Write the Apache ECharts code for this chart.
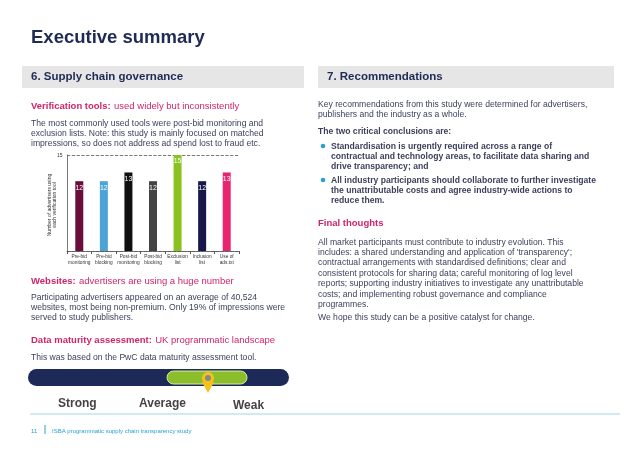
<!DOCTYPE html>
<html><head><meta charset="utf-8">
<script src="https://cdn.jsdelivr.net/npm/echarts@6/dist/echarts.min.js"></script>
<style>html,body{margin:0;padding:0;background:#fff}#main{width:638px;height:451px}</style>
</head><body><div id="main"></div>
<script>
var categories = ['Pre-bid\nmonitoring', 'Pre-bid\nblocking', 'Post-bid\nmonitoring', 'Post-bid\nblocking', 'Exclusion\nlist', 'Inclusion\nlist', 'Use of\nads.txt'];
var values = [12, 12, 13, 12, 15, 12, 13];
var barColors = ['#6a0d3d', '#4ba3d6', '#111111', '#444444', '#8cc21f', '#17174a', '#e8236f'];

var myChart = echarts.init(document.getElementById('main'));
var F = 'Liberation Sans';
var ink = '#3b3f5a';
var body = { fontFamily: F, fontSize: 8.6, fill: ink, lineHeight: 10.4 };
function txt(x, y, text, st) {
    return { type: 'text', left: x, top: y, style: Object.assign({ text: text }, body, st || {}) };
}
var dark = '#1f2a55', blue = '#2a9fd6', pink = '#d0246a';
function head(x, y, a, b) {
    return { type: 'text', left: x, top: y, style: { text: '{a|' + a + '} {b|' + b + '}', fontFamily: F,
        rich: { a: { fontSize: 9.5, fontWeight: 'bold', fill: pink, fontFamily: F }, b: { fontSize: 9.5, fill: pink, fontFamily: F } } } };
}

var graphics = [
    txt(31, 28, 'Executive summary', { fontSize: 18.5, fontWeight: 'bold', fill: dark }),
    { type: 'rect', shape: { x: 22, y: 66, width: 282, height: 22 }, style: { fill: '#e6e6e6' } },
    { type: 'rect', shape: { x: 318, y: 66, width: 296, height: 22 }, style: { fill: '#e6e6e6' } },
    txt(31, 71, '6. Supply chain governance', { fontSize: 11.5, fontWeight: 'bold', fill: dark }),
    txt(327, 71, '7. Recommendations', { fontSize: 11.5, fontWeight: 'bold', fill: dark }),
    head(31, 100, 'Verification tools:', 'used widely but inconsistently'),
    txt(31, 118, 'The most commonly used tools were post-bid monitoring and\nexclusion lists. Note: this study is mainly focused on matched\nimpressions, so does not address ad spend lost to fraud etc.'),
    txt(57, 150, '15', { fontSize: 5, fill: '#333' }),
    { type: 'text', x: 52, y: 205, rotation: Math.PI / 2, style: { text: 'Number of advertisers using\neach verification tool', fontFamily: F, fontSize: 5, fill: '#333', align: 'center', verticalAlign: 'middle' } },
    head(31, 275, 'Websites:', 'advertisers are using a huge number'),
    txt(31, 292, 'Participating advertisers appeared on an average of 40,524\nwebsites, most being non-premium. Only 19% of impressions were\nserved to study publishers.'),
    head(31, 334, 'Data maturity assessment:', 'UK programmatic landscape'),
    txt(31, 352, 'This was based on the PwC data maturity assessment tool.'),
    { type: 'rect', shape: { x: 28, y: 369, width: 261, height: 17, r: 8.5 }, style: { fill: '#1d2a57' } },
    { type: 'rect', shape: { x: 167, y: 371, width: 80, height: 13, r: 6.5 }, style: { fill: '#8cbd2a', stroke: '#d8e9b0', lineWidth: 1 } },
    { type: 'polygon', shape: { points: [[202, 382], [214, 382], [208, 393]] }, style: { fill: '#f4c21a' } },
    { type: 'circle', shape: { cx: 208, cy: 378, r: 6 }, style: { fill: '#f4c21a' } },
    { type: 'circle', shape: { cx: 208, cy: 378, r: 3 }, style: { fill: '#888' } },
    txt(58, 398, 'Strong', { fontSize: 12, fontWeight: 'bold', fill: '#444' }),
    txt(139, 398, 'Average', { fontSize: 12, fontWeight: 'bold', fill: '#444' }),
    txt(233, 400, 'Weak', { fontSize: 12, fontWeight: 'bold', fill: '#444' }),
    { type: 'line', shape: { x1: 30, y1: 414, x2: 620, y2: 414 }, style: { stroke: '#9fd3ee', lineWidth: 1.2 } },
    txt(31, 426, '11', { fontSize: 6, fill: blue }),
    { type: 'line', shape: { x1: 45, y1: 425, x2: 45, y2: 434 }, style: { stroke: blue, lineWidth: 1 } },
    txt(52, 426, 'ISBA programmatic supply chain transparency study', { fontSize: 6, fill: blue }),

    txt(318, 99, 'Key recommendations from this study were determined for advertisers,\npublishers and the industry as a whole.'),
    txt(318, 126, 'The two critical conclusions are:', { fontWeight: 'bold' }),
    { type: 'circle', shape: { cx: 323, cy: 146, r: 2.3 }, style: { fill: blue } },
    txt(331, 141, 'Standardisation is urgently required across a range of\ncontractual and technology areas, to facilitate data sharing and\ndrive transparency; and', { fontWeight: 'bold' }),
    { type: 'circle', shape: { cx: 323, cy: 180, r: 2.3 }, style: { fill: blue } },
    txt(331, 175, 'All industry participants should collaborate to further investigate\nthe unattributable costs and agree industry-wide actions to\nreduce them.', { fontWeight: 'bold' }),
    txt(318, 218, 'Final thoughts', { fontSize: 9.5, fontWeight: 'bold', fill: pink }),
    txt(318, 237, 'All market participants must contribute to industry evolution. This\nincludes: a shared understanding and application of \'transparency\';\ncontractual arrangements with standardised definitions; clear and\nconsistent protocols for sharing data; careful monitoring of log level\nreports; supporting industry initiatives to investigate any unattributable\ncosts; and implementing robust governance and compliance\nprogrammes.'),
    txt(318, 312, 'We hope this study can be a positive catalyst for change.')
];

var option = {
    animation: false,
    grid: { left: 67, top: 155, width: 172, height: 96 },
    xAxis: {
        type: 'category', data: categories,
        axisLine: { lineStyle: { color: '#555', width: 0.8 } },
        axisTick: { show: true, length: 3, lineStyle: { color: '#555' } },
        axisLabel: { fontFamily: F, fontSize: 4.8, color: '#333', lineHeight: 5.5, margin: 3, interval: 0 }
    },
    yAxis: {
        type: 'value', min: 4, max: 15, interval: 11,
        axisLine: { show: true, lineStyle: { color: '#555', width: 0.8 } },
        axisLabel: { show: false },
        splitLine: { lineStyle: { type: 'dashed', color: '#555', width: 0.8 } }
    },
    series: [{
        type: 'bar', barWidth: 8,
        data: values.map(function (v, i) { return { value: v, itemStyle: { color: barColors[i] } }; }),
        label: { show: true, position: 'insideTop', color: '#fff', fontFamily: F, fontSize: 7, distance: 3 }
    }],
    graphic: graphics
};
myChart.setOption(option);
</script></body></html>
